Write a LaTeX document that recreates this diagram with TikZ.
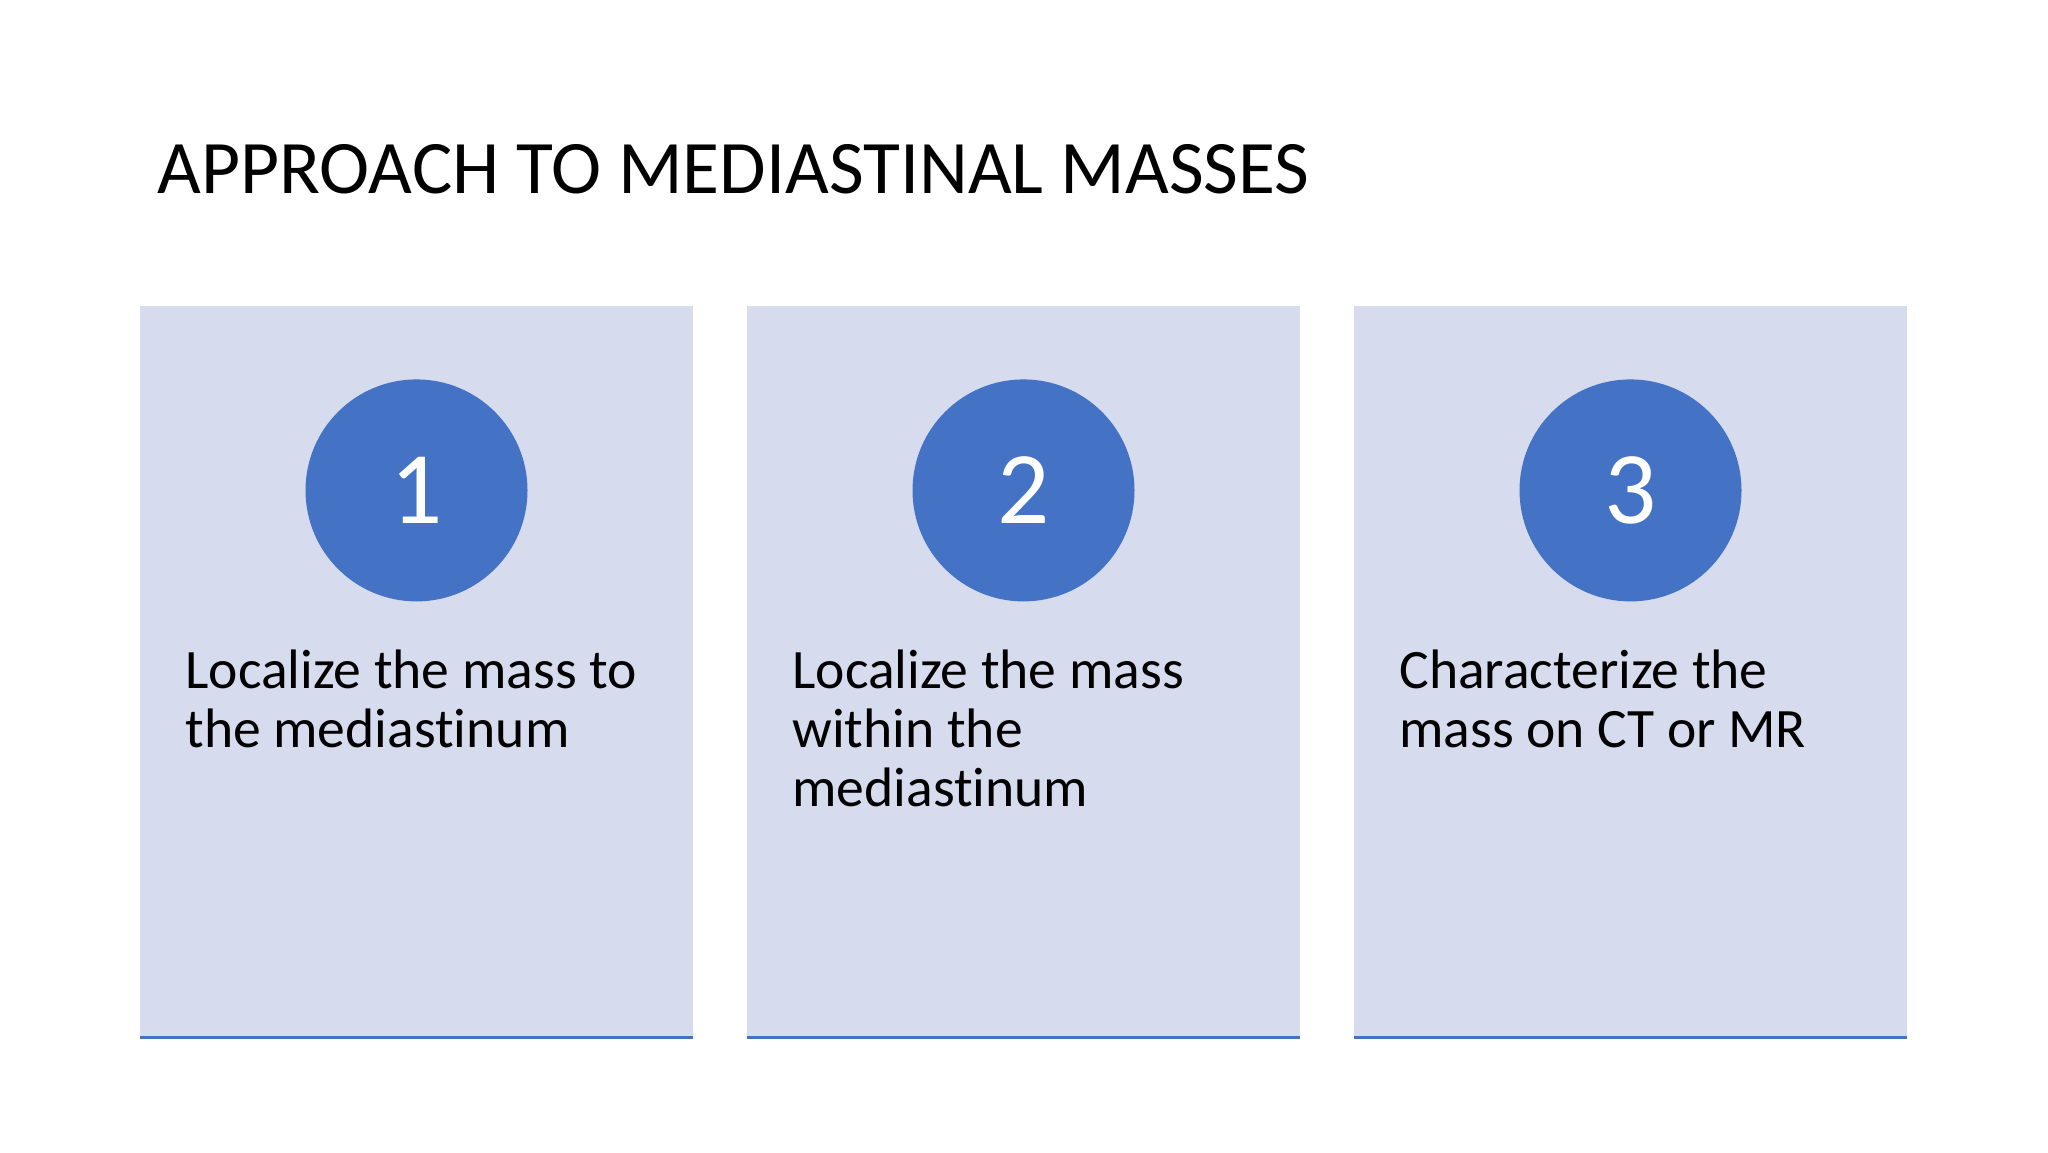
\documentclass[tikz,border=0pt]{standalone}
\usepackage{fontspec}
\setmainfont{Carlito}[Ligatures=NoCommon]
\usetikzlibrary{positioning}
\definecolor{panelfill}{HTML}{D6DBEE}
\definecolor{stepblue}{HTML}{4472C4}

\begin{document}
\begin{tikzpicture}[x=0.5pt,y=-0.5pt, node distance=27pt,
  panel/.style={fill=panelfill,minimum width=276.5pt,minimum height=365.5pt,inner sep=0pt,outer sep=0pt},
  badge/.style={circle,fill=stepblue,minimum size=111pt,inner sep=0pt,text=white,font=\fontsize{51.5}{60}\selectfont},
  caption/.style={anchor=base west,align=left,inner sep=0pt,font=\fontsize{27.8}{29.5}\selectfont},
  baseline/.style={draw=stepblue,line width=1.5pt}]
\useasboundingbox (0,0) rectangle (2048,1152);
\node[anchor=base west,inner sep=0pt,font=\fontsize{37.8}{42}\selectfont] (title) at (157,193) {APPROACH TO MEDIASTINAL MASSES};
\node[panel,anchor=north west] (p1) at (140,306) {};
\node[panel,right=of p1] (p2) {};
\node[panel,right=of p2] (p3) {};
\node[badge,below=36.5pt of p1.north] (n1) {1};
\node[badge,below=36.5pt of p2.north] (n2) {2};
\node[badge,below=36.5pt of p3.north] (n3) {3};
% base anchor sits on the last line
\node[caption] (t1) at ([shift={(45,441)}]p1.north west) {Localize the mass to\\the mediastinum};
\node[caption] (t2) at ([shift={(45,500)}]p2.north west) {Localize the mass\\within the\\mediastinum};
\node[caption] (t3) at ([shift={(45,441)}]p3.north west) {Characterize the\\mass on CT or MR};
\draw[baseline] (p1.south west) -- (p1.south east);
\draw[baseline] (p2.south west) -- (p2.south east);
\draw[baseline] (p3.south west) -- (p3.south east);
\end{tikzpicture}
\end{document}
